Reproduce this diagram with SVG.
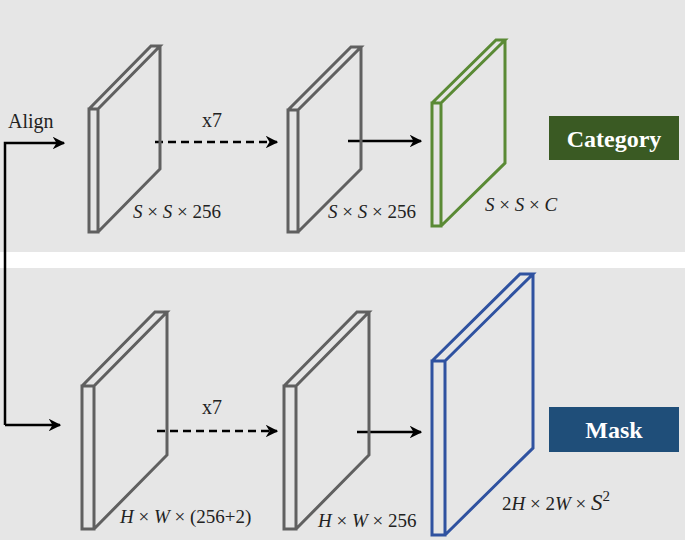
<svg xmlns="http://www.w3.org/2000/svg" width="685" height="540" viewBox="0 0 685 540">
<defs>
<style>
.bg{fill:#e6e6e6}
.plate{fill:none;stroke:#606060;stroke-width:3;stroke-linejoin:miter}
.green{stroke:#5a8a35}
.blue{stroke:#2f52a0}
.conn{fill:none;stroke:#000;stroke-width:2.5}
.dash{stroke-dasharray:8 5}
.t{font-family:"Liberation Serif","Times New Roman",serif;fill:#222}
.lbl{font-size:19px}
.i{font-style:italic}
.btn{font-family:"Liberation Serif","Times New Roman",serif;font-weight:bold;font-size:24px;fill:#fff}
</style>
<marker id="ah" viewBox="0 0 10 10" refX="9" refY="5" markerWidth="5" markerHeight="5" orient="auto" markerUnits="strokeWidth">
<path d="M0,0 L10,5 L0,10 L3,5 Z" fill="#000"/>
</marker>
</defs>
<rect class="bg" x="0" y="0" width="685" height="252"/>
<rect class="bg" x="0" y="268" width="685" height="272"/>

<g id="connectors">
<path class="conn" d="M5,425 V143 H64" marker-end="url(#ah)"/>
<path class="conn" d="M5,425 H60" marker-end="url(#ah)"/>
<path class="conn dash" d="M155,142 H277" marker-end="url(#ah)"/>
<path class="conn" d="M348,141 H421" marker-end="url(#ah)"/>
<path class="conn dash" d="M157,431 H277" marker-end="url(#ah)"/>
<path class="conn" d="M357,432 H421" marker-end="url(#ah)"/>
<text class="t" x="8" y="128" font-size="20">Align</text>
<text class="t" x="212" y="127" font-size="20" text-anchor="middle">x7</text>
<text class="t" x="212" y="414" font-size="20" text-anchor="middle">x7</text>
</g>

<g id="top-plate-1">
<path class="plate" d="M89,109 H98 V232 H89 Z M89,109 L151,46 H160 L98,109 M160,46 V169 L98,232"/>
<text class="t lbl" x="133" y="218"><tspan class="i">S</tspan> × <tspan class="i">S</tspan> × 256</text>
</g>
<g id="top-plate-2">
<path class="plate" d="M288,110 H298 V232 H288 Z M288,110 L351,47 H361 L298,110 M361,47 V169 L298,232"/>
<text class="t lbl" x="328" y="218"><tspan class="i">S</tspan> × <tspan class="i">S</tspan> × 256</text>
</g>
<g id="top-plate-category">
<path class="plate green" d="M432,103 H441 V226 H432 Z M432,103 L496,40 H505 L441,103 M505,40 V163 L441,226"/>
<text class="t lbl" x="485" y="211"><tspan class="i">S</tspan> × <tspan class="i">S</tspan> × <tspan class="i">C</tspan></text>
</g>
<g id="category">
<rect x="549" y="116" width="130" height="44" fill="#3a5a23"/>
<text class="btn" x="614" y="147" text-anchor="middle">Category</text>
</g>

<g id="bottom-plate-1">
<path class="plate" d="M82,386 H94 V529 H82 Z M82,386 L155,312 H167 L94,386 M167,312 V455 L94,529"/>
<text class="t lbl" x="120" y="523"><tspan class="i">H</tspan> × <tspan class="i">W</tspan> × (256+2)</text>
</g>
<g id="bottom-plate-2">
<path class="plate" d="M284,386 H296 V529 H284 Z M284,386 L357,312 H369 L296,386 M369,312 V455 L296,529"/>
<text class="t lbl" x="318" y="527"><tspan class="i">H</tspan> × <tspan class="i">W</tspan> × 256</text>
</g>
<g id="bottom-plate-mask">
<path class="plate blue" d="M432,361 H445 V535 H432 Z M432,361 L520,274 H533 L445,361 M533,274 V448 L445,535"/>
<text class="t lbl" x="502" y="510">2<tspan class="i">H</tspan> × 2<tspan class="i">W</tspan> × <tspan class="i" font-size="23">S</tspan><tspan font-size="15" dy="-9">2</tspan></text>
</g>
<g id="mask">
<rect x="549" y="407" width="130" height="45" fill="#1f4e79"/>
<text class="btn" x="614" y="438" text-anchor="middle">Mask</text>
</g>
</svg>
